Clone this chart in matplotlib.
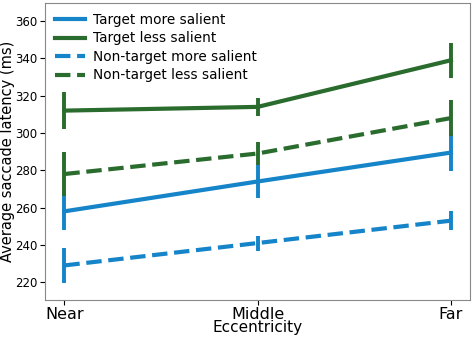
import matplotlib
matplotlib.use("Agg")
import matplotlib.pyplot as plt
import numpy as np

BLUE = "#1584c8"
GREEN = "#2a6b2e"

ecc_labels = ["Near", "Middle", "Far"]

target_more = [258, 274, 289.5]
target_more_err = [10, 9, 10]
target_less = [312, 314, 339]
target_less_err = [10, 5, 9.5]
nontarget_more = [229, 241, 253]
nontarget_more_err = [9.5, 4, 5]
nontarget_less = [278, 289, 308]
nontarget_less_err = [12, 6, 9.5]


def main():
	fig, ax = plt.subplots(figsize=(4.74, 3.37), dpi=100)
	x = np.arange(len(ecc_labels))

	series = [
		(target_more, target_more_err, BLUE, "-", "Target more salient"),
		(target_less, target_less_err, GREEN, "-", "Target less salient"),
		(nontarget_more, nontarget_more_err, BLUE, "--", "Non-target more salient"),
		(nontarget_less, nontarget_less_err, GREEN, "--", "Non-target less salient"),
	]
	for y, err, col, ls, lab in series:
		ax.errorbar(x, y, yerr=err, color=col, linestyle=ls, linewidth=3.0,
			elinewidth=2.8, capsize=0, label=lab)

	ax.set_xticks(x)
	ax.set_xticklabels(ecc_labels, fontsize=11.5)
	ax.set_yticks(np.arange(220, 361, 20))
	ax.tick_params(axis="y", labelsize=8.5, pad=2)
	ax.tick_params(axis="x", pad=1.5)
	ax.set_ylim(210.5, 369.5)
	ax.set_xlim(-0.1, 2.1)
	ax.set_xlabel("Eccentricity", fontsize=11, labelpad=-1)
	ax.set_ylabel("Average saccade latency (ms)", fontsize=10.5, labelpad=0)
	for s in ax.spines.values():
		s.set_color("#888888")

	# legend shows only the line handles
	handles, labels = ax.get_legend_handles_labels()
	handles = [h[0] for h in handles]
	ax.legend(handles, labels, loc="upper left", frameon=False, fontsize=9.8,
		handlelength=2.2, handletextpad=0.6, borderaxespad=0.3, labelspacing=0.33)

	fig.subplots_adjust(left=0.095, right=0.992, top=0.99, bottom=0.11)
	fig.savefig("out.png")


if __name__ == "__main__":
	main()
